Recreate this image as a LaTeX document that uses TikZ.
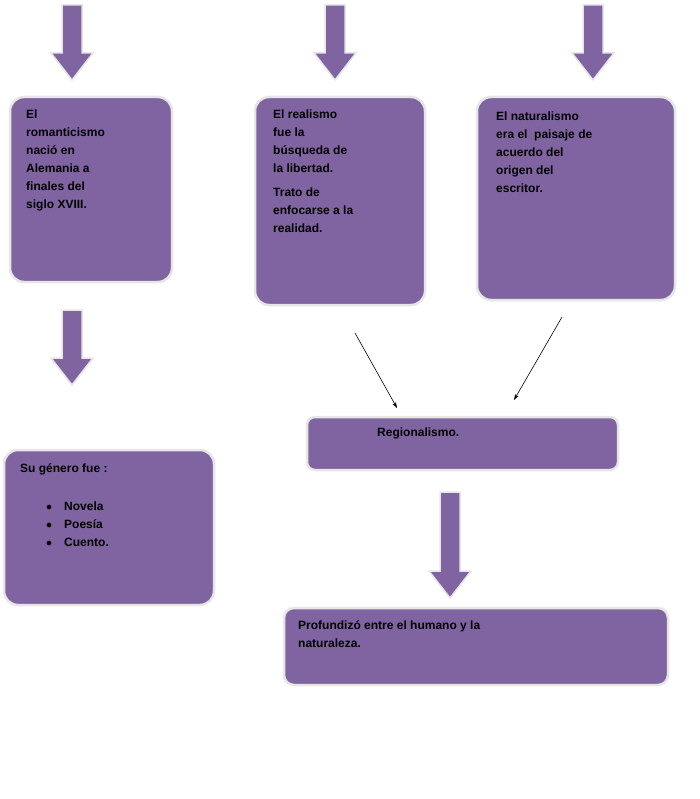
\documentclass[tikz,border=0pt]{standalone}
\usepackage{fontspec}
\setmainfont{Liberation Sans}
\usetikzlibrary{arrows.meta}
\definecolor{pu}{HTML}{8064A2}
\definecolor{edge}{HTML}{E6E6E6}
\begin{document}
\begin{tikzpicture}[x=1pt,y=-1pt,
  box/.style={draw=edge,line width=2.5pt,fill=pu,rounded corners=14pt},
  txt/.style={anchor=north west,font=\bfseries\fontsize{12}{18}\selectfont,align=left,inner sep=0pt},
  blk/.style={fill=pu,draw=edge,line width=1.5pt,line join=miter},
  thin/.style={-{Stealth[length=6pt,width=4pt]},line width=0.6pt}]
\useasboundingbox (0,0) rectangle (699,799);
\newcommand{\blockarrow}[4]{% x, top, bottom, name
  \path[blk] (#1-10,#2) -- (#1+10,#2) -- (#1+10,#3-27) -- (#1+21,#3-27) -- (#1,#3) -- (#1-21,#3-27) -- (#1-10,#3-27) -- cycle;
  \coordinate (#4) at (#1,#3);}
\blockarrow{72}{5}{80}{a1}
\blockarrow{335}{5}{80}{a2}
\blockarrow{593}{5}{80}{a3}
\blockarrow{72}{310}{385}{a4}
\blockarrow{450}{492}{598}{a5}
\path[box] (10,97) rectangle (172,282);
\path[box] (255,97) rectangle (425,305);
\path[box] (477,97) rectangle (675,300);
\path[box,rounded corners=8pt] (307,417) rectangle (618,470);
\path[box] (4,450) rectangle (214,605);
\path[box,rounded corners=10pt] (284,608) rectangle (668,685);
\node[txt] (t1) at (26,110) {El\\romanticismo\\nació en\\Alemania a\\finales del\\siglo XVIII.};
\node[txt] (t2) at (273,110) {El realismo\\fue la\\búsqueda de\\la libertad.\\[6pt]Trato de\\enfocarse a la\\realidad.};
\node[txt] (t3) at (496,112) {El naturalismo\\era el\ \ paisaje de\\acuerdo del\\origen del\\escritor.};
\node[txt] (t4) at (377,428) {Regionalismo.};
\node[txt] (t5) at (20,463) {Su género fue :};
\node[txt] (t5b) at (46,502) {$\bullet$\hspace{12pt}Novela\\$\bullet$\hspace{12pt}Poesía\\$\bullet$\hspace{12pt}Cuento.};
\node[txt] (t6) at (298,620) {Profundizó entre el humano y la\\naturaleza.};
\coordinate (s1) at (355,333); \coordinate (e1) at (397,408);
\coordinate (s2) at (562,317); \coordinate (e2) at (514,400);
\draw[thin] (s1) -- (e1);
\draw[thin] (s2) -- (e2);
\end{tikzpicture}
\end{document}
